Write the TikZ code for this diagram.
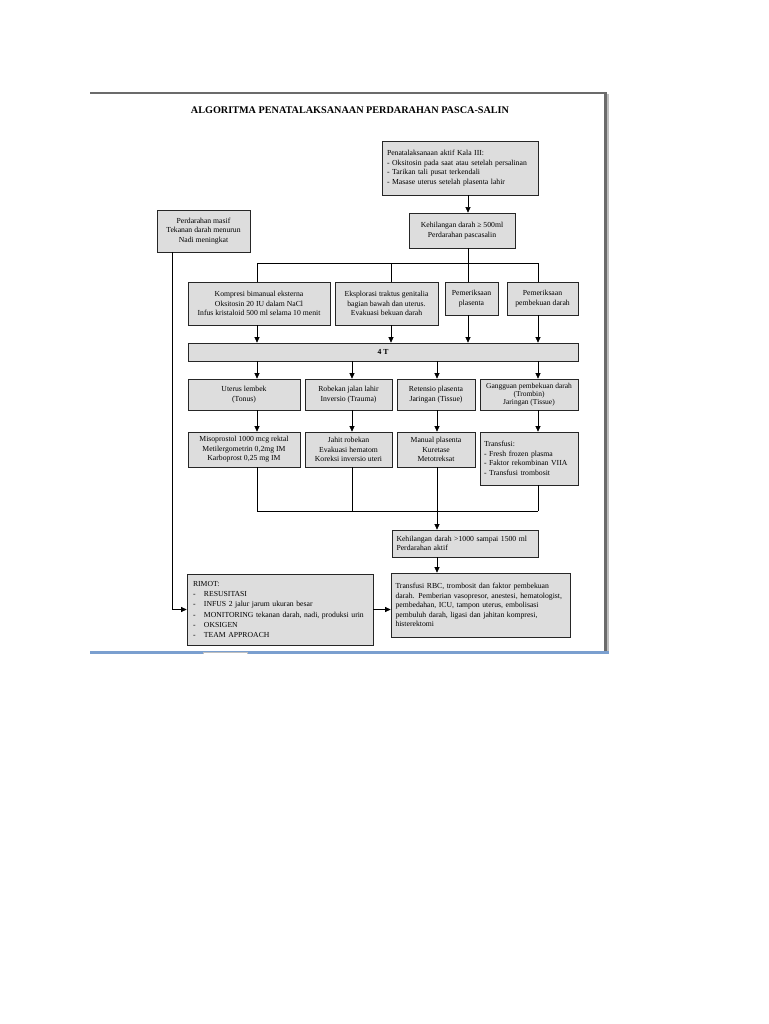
\documentclass[tikz,border=0pt]{standalone}
\usepackage{fontspec}
\setmainfont{Liberation Serif}
\usetikzlibrary{arrows.meta}
\definecolor{framegray}{HTML}{6B6B6B}
\definecolor{frameblue}{HTML}{7A9FCF}
\begin{document}
\begin{tikzpicture}[x=1pt,y=-1pt,
  box/.style={draw=black!85, line width=0.7pt, fill=gray!27, inner sep=2pt,
    font=\fontsize{7.7}{9.5}\selectfont, align=center},
  lbox/.style={box, align=left},
  ln/.style={draw=black, line width=0.6pt},
  arr/.style={ln, -{Triangle[length=5.5pt,width=5pt]}},
]
\useasboundingbox (0,0) rectangle (768,1024);
\fill[white] (0,0) rectangle (768,1024);
% page frame
\draw[framegray, line width=1.6pt] (90,93) -- (606,93);
\fill[framegray] (604,92) rectangle (607,652);
\fill[black!25] (607,94) rectangle (609,652);
\fill[frameblue] (90,651) rectangle (609,653.5);
\fill[white] (203,652) rectangle (247,654);
\draw[black!25, line width=0.4pt] (203,654) -- (203,652) -- (247,652) -- (247,654);

\node[font=\bfseries\fontsize{10.2}{12}\selectfont] (title) at (350,110)
  {ALGORITMA PENATALAKSANAAN PERDARAHAN PASCA-SALIN};

% column coordinates
\coordinate (cL) at (172,0);
\coordinate (cA) at (257,0);
\coordinate (cB) at (391,0);
\coordinate (cC) at (468,0);
\coordinate (cD) at (538,0);
\coordinate (k1) at (257,0);
\coordinate (k2) at (352,0);
\coordinate (k3) at (437,0);
\coordinate (k4) at (538,0);
\coordinate (dist) at (0,263);
\coordinate (mrg) at (0,511);

% boxes
\node[lbox, minimum width=156pt, minimum height=54pt, text width=146pt, inner xsep=5pt] (kala) at (460,168)
  {Penatalaksanaan aktif Kala III:\\
   - Oksitosin pada saat atau setelah persalinan\\
   - Tarikan tali pusat terkendali\\
   - Masase uterus setelah plasenta lahir};
\node[box, minimum width=106pt, minimum height=35pt] (keh500) at (462,230.5)
  {Kehilangan darah ≥ 500ml\\Perdarahan pascasalin};
\node[box, minimum width=93pt, minimum height=42pt] (masif) at (203.5,231)
  {Perdarahan masif\\Tekanan darah menurun\\Nadi meningkat};

\node[box, minimum width=142pt, minimum height=43pt] (A) at (259,303.5)
  {Kompresi bimanual eksterna\\Oksitosin 20 IU dalam NaCl\\Infus kristaloid 500 ml selama 10 menit};
\node[box, minimum width=103pt, minimum height=43pt] (B) at (386.5,303.5)
  {Eksplorasi traktus genitalia\\bagian bawah dan uterus.\\Evakuasi bekuan darah};
\node[box, minimum width=53pt, minimum height=33pt] (C) at (471.5,298.5)
  {Pemeriksaan\\plasenta};
\node[box, minimum width=71pt, minimum height=33pt] (D) at (542.5,298.5)
  {Pemeriksaan\\pembekuan darah};

\node[box, minimum width=390pt, minimum height=18pt, font=\bfseries\fontsize{7.7}{9.5}\selectfont] (bar) at (383,352) {4 T};

\node[box, minimum width=112pt, minimum height=31pt] (r3a) at (244,394.5)
  {Uterus lembek\\(Tonus)};
\node[box, minimum width=87pt, minimum height=31pt] (r3b) at (348.5,394.5)
  {Robekan jalan lahir\\Inversio (Trauma)};
\node[box, minimum width=78pt, minimum height=31pt] (r3c) at (436,394.5)
  {Retensio plasenta\\Jaringan (Tissue)};
\node[box, minimum width=98pt, minimum height=31pt, inner sep=1pt,
  font=\fontsize{7.5}{7.8}\selectfont] (r3d) at (529,394.5)
  {Gangguan pembekuan darah\\(Trombin)\\Jaringan (Tissue)};

\node[box, minimum width=112pt, minimum height=35pt] (r4a) at (244,449.5)
  {Misoprostol 1000 mcg rektal\\Metilergometrin 0,2mg IM\\Karboprost 0,25 mg IM};
\node[box, minimum width=87pt, minimum height=35pt] (r4b) at (348.5,449.5)
  {Jahit robekan\\Evakuasi hematom\\Koreksi inversio uteri};
\node[box, minimum width=78pt, minimum height=35pt] (r4c) at (436,449.5)
  {Manual plasenta\\Kuretase\\Metotreksat};
\node[lbox, minimum width=98pt, minimum height=53pt, text width=90pt, inner xsep=4pt] (r4d) at (529,458.5)
  {Transfusi:\\- Fresh frozen plasma\\- Faktor rekombinan VIIA\\- Transfusi trombosit};

\node[lbox, minimum width=146pt, minimum height=27pt, text width=137pt, inner xsep=4.5pt] (keh1000) at (465,543.5)
  {Kehilangan darah >1000 sampai 1500 ml\\Perdarahan aktif};
\node[lbox, minimum width=179pt, minimum height=64pt, text width=170pt, inner xsep=4.5pt] (rbc) at (480.5,605)
  {Transfusi RBC, trombosit dan faktor pembekuan\\
   darah. Pemberian vasopresor, anestesi, hematologist,\\
   pembedahan, ICU, tampon uterus, embolisasi\\
   pembuluh darah, ligasi dan jahitan kompresi,\\
   histerektomi};
\node[lbox, minimum width=186pt, minimum height=71pt, text width=174pt, inner xsep=6pt,
  font=\fontsize{7.7}{10.2}\selectfont] (rimot) at (280,609.5)
  {RIMOT:\\
   \makebox[11pt][l]{-}RESUSITASI\\
   \makebox[11pt][l]{-}INFUS 2 jalur jarum ukuran besar\\
   \makebox[11pt][l]{-}MONITORING tekanan darah, nadi, produksi urin\\
   \makebox[11pt][l]{-}OKSIGEN\\
   \makebox[11pt][l]{-}TEAM APPROACH};

% connectors
\draw[arr] (kala.south -| cC) -- (keh500.north -| cC);
\draw[ln] (keh500.south -| cC) -- (C.north -| cC);
\draw[ln] (dist -| cA) -- (dist -| cD);
\draw[ln] (dist -| cA) -- (A.north -| cA);
\draw[ln] (dist -| cB) -- (B.north -| cB);
\draw[ln] (dist -| cD) -- (D.north -| cD);

\draw[arr] (A.south -| cA) -- (bar.north -| cA);
\draw[arr] (B.south -| cB) -- (bar.north -| cB);
\draw[arr] (C.south -| cC) -- (bar.north -| cC);
\draw[arr] (D.south -| cD) -- (bar.north -| cD);

\draw[arr] (bar.south -| k1) -- (r3a.north -| k1);
\draw[arr] (bar.south -| k2) -- (r3b.north -| k2);
\draw[arr] (bar.south -| k3) -- (r3c.north -| k3);
\draw[arr] (bar.south -| k4) -- (r3d.north -| k4);

\draw[arr] (r3a.south -| k1) -- (r4a.north -| k1);
\draw[arr] (r3b.south -| k2) -- (r4b.north -| k2);
\draw[arr] (r3c.south -| k3) -- (r4c.north -| k3);
\draw[arr] (r3d.south -| k4) -- (r4d.north -| k4);

\draw[ln] (r4a.south -| k1) -- (mrg -| k1);
\draw[ln] (r4b.south -| k2) -- (mrg -| k2);
\draw[ln] (r4d.south -| k4) -- (mrg -| k4);
\draw[ln] (mrg -| k1) -- (mrg -| k4);
\draw[arr] (r4c.south -| k3) -- (keh1000.north -| k3);
\draw[arr] (keh1000.south -| k3) -- (rbc.north -| k3);

\draw[arr] (masif.south -| cL) |- (rimot.west);
\draw[arr] (rimot.east) -- (rbc.west |- rimot.east);
\end{tikzpicture}
\end{document}
